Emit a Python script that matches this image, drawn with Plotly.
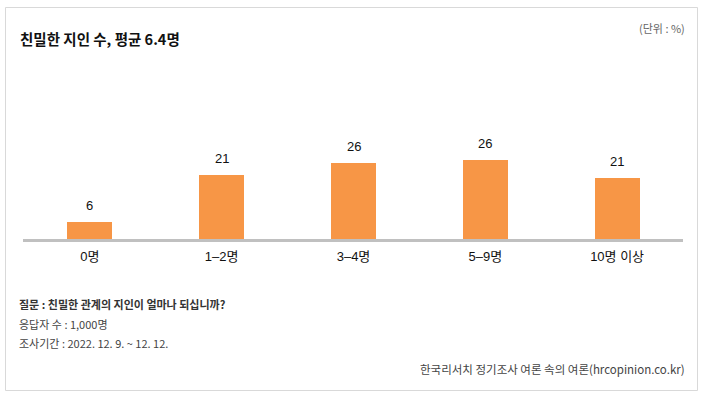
import plotly.graph_objects as go

# ---- data ----
categories = ["0명", "1~2명", "3~4명", "5~9명", "10명 이상"]
tick_labels = ["0명", "1–2명", "3–4명", "5–9명", "10명 이상"]
values = [5.7, 21.4, 25.6, 26.4, 20.6]

title_text = "친밀한 지인 수, 평균 6.4명"
unit_text = "(단위 : %)"
notes = [
    "질문 : 친밀한 관계의 지인이 얼마나 되십니까?",
    "응답자 수 : 1,000명",
    "조사기간 : 2022. 12. 9. ~ 12. 12.",
]
source_text = "한국리서치 정기조사 여론 속의 여론(hrcopinion.co.kr)"

# ---- layout geometry (pixels) ----
W, H = 705, 398
L, R, T, B = 24, 683, 100, 239
Y_TOP = 46.64

def px_x(x):
    return (x - L) / (R - L)

def px_y(y):
    return (B - y) / (B - T)

KR = "Noto Sans CJK KR, sans-serif"
NUM = "Liberation Sans, Arial, Noto Sans CJK KR, sans-serif"

fig = go.Figure()
fig.add_trace(go.Bar(
    x=categories, y=values,
    marker=dict(color="#F79646", line=dict(width=0)),
    width=0.341,
    hoverinfo="skip",
))

annotations = []
# data labels
for c, v in zip(categories, values):
    annotations.append(dict(
        x=c, y=v, xref="x", yref="y", text=f"{round(v)}",
        showarrow=False, yanchor="bottom", xanchor="center", yshift=7,
        font=dict(family=NUM, size=13, color="#111111"),
    ))
# title
annotations.append(dict(
    x=px_x(18), y=px_y(38), xref="paper", yref="paper",
    text=f"<b>{title_text}</b>", showarrow=False,
    xanchor="left", yanchor="middle",
    font=dict(family=KR, size=14.5, color="#111111"),
))
# unit
annotations.append(dict(
    x=px_x(687), y=px_y(28), xref="paper", yref="paper",
    text=unit_text, showarrow=False, xanchor="right", yanchor="middle",
    font=dict(family=KR, size=11, color="#666666"),
))
# notes
for i, (t, yy) in enumerate(zip(notes, [304, 324, 343])):
    annotations.append(dict(
        x=px_x(17), y=px_y(yy), xref="paper", yref="paper",
        text=(f"<b>{t}</b>" if i == 0 else t), showarrow=False,
        xanchor="left", yanchor="middle",
        font=dict(family=KR, size=11, color="#333333" if i == 0 else "#444444"),
    ))
# source
annotations.append(dict(
    x=px_x(687), y=px_y(369), xref="paper", yref="paper",
    text=source_text, showarrow=False, xanchor="right", yanchor="middle",
    font=dict(family=KR, size=11.5, color="#444444"),
))

shapes = [
    # outer border
    dict(type="rect", xref="paper", yref="paper",
         x0=px_x(5.5), x1=px_x(697.5), y0=px_y(390.5), y1=px_y(7.5),
         line=dict(color="#d9d9d9", width=1), fillcolor="rgba(0,0,0,0)", layer="below"),
    # baseline
    dict(type="rect", xref="paper", yref="paper",
         x0=px_x(23), x1=px_x(683), y0=px_y(242), y1=px_y(239),
         line=dict(width=0), fillcolor="#c0c0c0", layer="above"),
]

fig.update_layout(
    width=W, height=H,
    margin=dict(l=L, r=W - R, t=T, b=H - B, pad=0),
    paper_bgcolor="white", plot_bgcolor="white",
    showlegend=False,
    bargap=0,
    annotations=annotations,
    shapes=shapes,
    font=dict(family=KR),
)
fig.update_xaxes(
    tickmode="array", tickvals=categories, ticktext=tick_labels,
    showline=False, showgrid=False, zeroline=False, ticks="",
    tickfont=dict(family=NUM, size=13, color="#111111"),
    ticklabelstandoff=8, fixedrange=True,
)
fig.update_yaxes(visible=False, range=[0, Y_TOP], fixedrange=True)

fig.write_html(
    "out.html",
    config={"displayModeBar": False},
    post_script="document.body.style.margin='0';document.body.style.overflow='hidden';",
)
